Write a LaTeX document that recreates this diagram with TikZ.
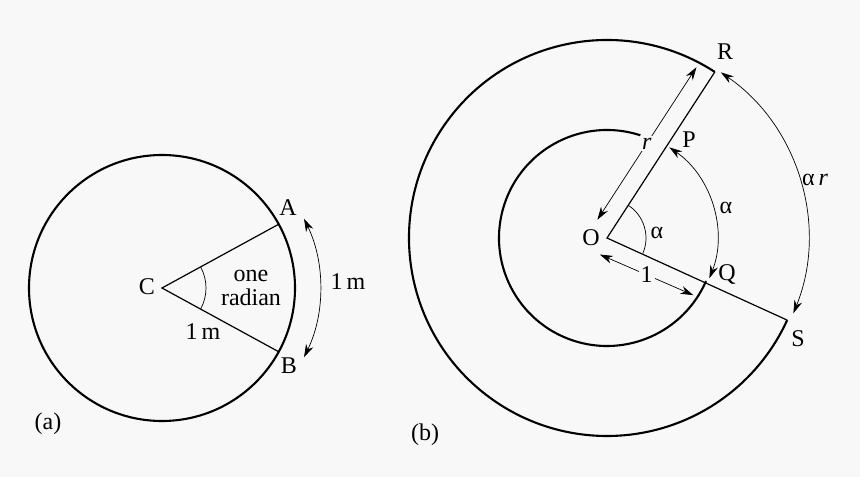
\documentclass[tikz,border=0pt]{standalone}
\usepackage{fontspec}
\setmainfont{Liberation Serif}
\usepackage{tikz}
\usetikzlibrary{arrows.meta, calc, positioning}

\begin{document}
\begin{tikzpicture}[x=1pt, y=1pt,
    every node/.style = {font=\fontsize{24}{27}\selectfont, inner sep=1pt},
    rim/.style = {line width=2.1pt},
    spoke/.style = {line width=1.2pt},
    measure/.style = {line width=0.7pt, {Stealth[length=13pt,width=8pt]}-{Stealth[length=13pt,width=8pt]}},
    angmark/.style = {line width=0.7pt},
    gap/.style = {fill=bgcol, inner sep=2pt}]
    \definecolor{bgcol}{RGB}{248,248,248}
    \fill[bgcol] (0,0) rectangle (860,477);
    \useasboundingbox (0,0) rectangle (860,477);

    % (a) one radian
    \coordinate (C) at (162,189);
    \coordinate (A) at ($(C)+(28.65:133)$);
    \coordinate (B) at ($(C)+(-28.65:133)$);
    \draw[rim] (C) circle (133);
    \draw[spoke] (A) -- (C) -- (B);
    \draw[angmark] ($(C)+(28.65:44)$) arc (28.65:-28.65:44);
    \draw[measure] ($(C)+(26:158)$) arc (26:-26:158);
    \node (lC) at (147,190) {C};
    \node (lA) at (288,269) {A};
    \node (lB) at (289,111) {B};
    \node[align=center, font=\fontsize{24}{24}\selectfont] (lrad) at (251,189) {one\\radian};
    \node (larc) at (348,195) {1\,m};
    \node (lrad1) at (203,145) {1\,m};
    \node (la) at (48,53) {(a)};

    % (b) arc length alpha r
    \coordinate (O) at (607,239);
    \coordinate (R) at ($(O)+(57:198)$);
    \coordinate (S) at ($(O)+(-24.5:198)$);
    \coordinate (P) at ($(O)+(57:108)$);
    \coordinate (Q) at ($(O)+(-23.5:108)$);
    \draw[rim] (R) arc (57:335.5:198);
    \draw[rim] ($(O)+(72:108)$) arc (72:336.5:108);
    \draw[spoke] (R) -- (O) -- (S);
    \draw[angmark] ($(O)+(57:39)$) arc (57:-23.5:39);
    \draw[measure] ($(O)+(147:18)+(57:10)$) -- node[gap] {\textit{r}} ($(O)+(147:18)+(57:192)$);
    \draw[measure] ($(O)+(-113.5:18)$) -- node[gap] {1} ($(O)+(-113.5:18)+(-23.5:102)$);
    \draw[measure] ($(O)+(55.5:110)$) arc (55.5:-21.5:110);
    \draw[measure] ($(O)+(55.5:201)$) arc (55.5:-22:201);
    \node (lR) at (725,425) {R};
    \node (lP) at (689,337) {P};
    \node (lO) at (591,239) {O};
    \node (lQ) at (727,202) {Q};
    \node (lS) at (798,138) {S};
    \node (lang) at (657,244) {α};
    \node (lalpha) at (726,269) {α};
    \node (lar) at (815,297) {α\,\textit{r}};
    \node (lb) at (425,42) {(b)};
\end{tikzpicture}
\end{document}
